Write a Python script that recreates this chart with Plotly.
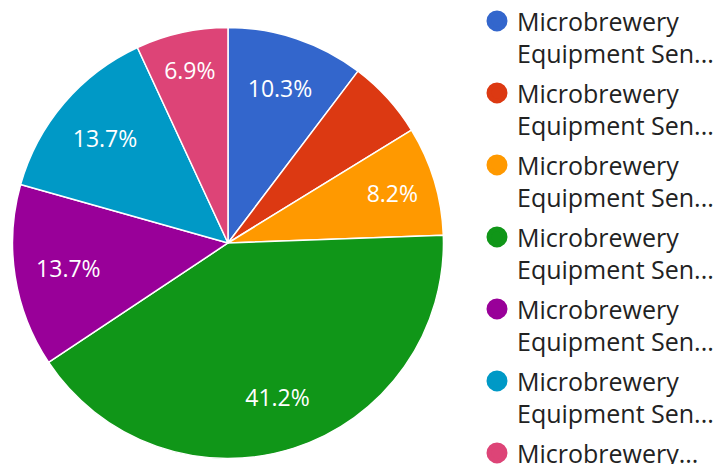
import plotly.graph_objects as go

labels = [
    "Microbrewery Equipment Series A",
    "Microbrewery Equipment Series B",
    "Microbrewery Equipment Series C",
    "Microbrewery Equipment Series D",
    "Microbrewery Equipment Series E",
    "Microbrewery Equipment Series F",
    "Microbrewery Equipment Series G",
]
legend_names = [
    "Microbrewery<br>Equipment Sen...",
    "Microbrewery<br>Equipment Sen...",
    "Microbrewery<br>Equipment Sen...",
    "Microbrewery<br>Equipment Sen...",
    "Microbrewery<br>Equipment Sen...",
    "Microbrewery<br>Equipment Sen...",
    "Microbrewery...",
]
values = [10.3, 5.9, 8.2, 41.2, 13.7, 13.7, 6.9]
slice_text = ["10.3%", "", "8.2%", "41.2%", "13.7%", "13.7%", "6.9%"]
colors = ["#3366cc", "#dc3912", "#ff9900", "#109618", "#990099", "#0099c6", "#dd4477"]

domain = dict(x=[0.0175, 0.622], y=[0.0119, 0.9407])

fig = go.Figure()
# filled slices
fig.add_trace(go.Pie(
    labels=labels,
    values=values,
    textinfo="none",
    sort=False,
    direction="clockwise",
    rotation=0,
    marker=dict(colors=colors, line=dict(color="white", width=1.5)),
    showlegend=False,
    hoverinfo="label+percent",
    domain=domain,
))
# transparent ring carrying the slice labels (places text at ~3/4 radius)
fig.add_trace(go.Pie(
    labels=labels,
    values=values,
    text=slice_text,
    texttemplate="%{text}",
    textposition="inside",
    insidetextorientation="horizontal",
    hole=0.5,
    sort=False,
    direction="clockwise",
    rotation=0,
    marker=dict(colors=["rgba(0,0,0,0)"] * len(values), line=dict(width=0)),
    textfont=dict(family="Open Sans", size=23, color="white"),
    showlegend=False,
    hoverinfo="skip",
    domain=domain,
))

for i, (name, c) in enumerate(zip(legend_names, colors)):
    fig.add_trace(go.Scatter(
        x=[None], y=[None], mode="markers", name=name,
        legendgroup=f"g{i}",
        marker=dict(color=c, size=16, symbol="circle", line=dict(color=c, width=5)),
        showlegend=True,
    ))

fig.update_layout(
    width=713, height=464,
    margin=dict(l=0, r=0, t=0, b=0, autoexpand=False),
    paper_bgcolor="white", plot_bgcolor="white",
    xaxis=dict(visible=False), yaxis=dict(visible=False),
    font=dict(family="Open Sans"),
    legend=dict(
        x=0.669, xanchor="left", y=1.004, yanchor="top",
        font=dict(family="Open Sans", size=25, color="#222222"),
        valign="top", tracegroupgap=4, itemsizing="trace",
        bgcolor="rgba(0,0,0,0)",
        maxheight=800,
    ),
)

fig.write_html("out.html", config={"displayModeBar": False},
               post_script="document.body.style.margin='0px';")
